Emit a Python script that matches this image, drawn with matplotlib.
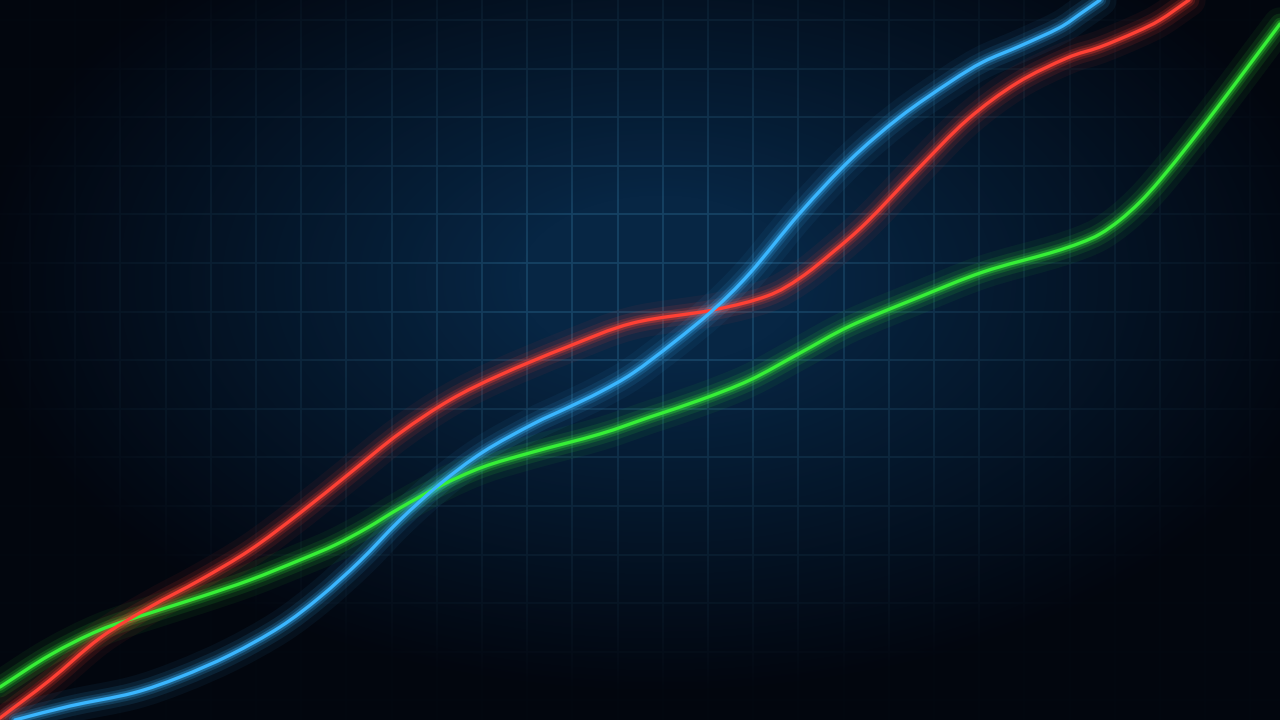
import numpy as np
import matplotlib
matplotlib.use("Agg")
import matplotlib.pyplot as plt
from matplotlib.path import Path
from matplotlib.patches import PathPatch

#------------------------------ Data ------------------------------
# x / y in screen-like units (0..1280 wide, 0..720 tall, y grows downward)
blue_x = [15, 70, 133, 180, 230, 280, 320, 360, 400, 440, 483, 533, 567, 600,
          633, 673, 713, 750, 800, 850, 900, 950, 983, 1020, 1059, 1080, 1100]
blue_y = [720, 706, 693, 677, 655, 627, 597, 561, 520, 484, 452, 424, 408, 392,
          373, 343, 310, 273, 213, 160, 117, 82, 62, 46, 28, 14, 0]

red_x = [0, 50, 100, 150, 200, 250, 300, 350, 400, 450, 500, 567, 633, 713, 767,
         800, 833, 867, 917, 967, 1017, 1067, 1100, 1136, 1160, 1189]
red_y = [718, 680, 638, 607, 580, 550, 513, 473, 433, 400, 375, 347, 323, 310, 296,
         278, 252, 222, 170, 120, 83, 58, 47, 32, 20, 0]

green_x = [0, 50, 100, 150, 200, 250, 300, 335, 367, 400, 440, 483, 533, 600, 650,
           700, 750, 800, 850, 917, 983, 1050, 1080, 1100, 1120, 1140, 1160,
           1190, 1220, 1250, 1280]
green_y = [687, 655, 630, 613, 597, 580, 560, 545, 528, 508, 486, 467, 452, 434, 417,
           400, 380, 353, 326, 298, 272, 253, 243, 234, 220, 202, 180,
           143, 104, 64, 24]

grid_x = np.arange(30, 1280, 45.2)
grid_y = np.arange(20, 720, 48.6)

#------------------------------ Styles ------------------------------
bg_center = (7/255, 38/255, 68/255)
grid_color = (22/255, 66/255, 100/255)
edge_color = (2/255, 5/255, 13/255)
series = [
    (green_x, green_y, "#36f036"),
    (red_x, red_y, "#ff4034"),
    (blue_x, blue_y, "#3ab6ff"),
]

#------------------------------ Helpers ------------------------------
# smooth path through the read points (catmull-rom as cubic beziers)
def smoothPath(x, y):
    p = np.column_stack([x, y]).astype(float)
    p = np.vstack([2 * p[0] - p[1], p, 2 * p[-1] - p[-2]])
    verts = [p[1]]
    codes = [Path.MOVETO]
    for i in range(1, len(p) - 2):
        c1 = p[i] + (p[i + 1] - p[i - 1]) / 6.
        c2 = p[i + 1] - (p[i + 2] - p[i]) / 6.
        verts += [c1, c2, p[i + 1]]
        codes += [Path.CURVE4] * 3
    return Path(verts, codes)

def drawLine(ax, path, color, lw, alpha, z):
    ax.add_patch(PathPatch(path, facecolor="none", edgecolor=color, lw=lw,
                           alpha=alpha, capstyle="round", joinstyle="round",
                           zorder=z))

#------------------------------ Figure ------------------------------
fig = plt.figure(figsize=(12.8, 7.2), dpi=100)
fig.patch.set_facecolor(edge_color)
ax = fig.add_axes((0., 0., 1., 1.))
ax.set_facecolor(bg_center)
for s in ax.spines.values():
    s.set_visible(False)
ax.set_xticks([])
ax.set_yticks([])

# grid
ax.vlines(grid_x, 0, 720, color=grid_color, lw=1.3, zorder=1)
ax.hlines(grid_y, 0, 1280, color=grid_color, lw=1.3, zorder=1)

# vignette over background + grid
yy, xx = np.mgrid[0:720, 0:1280]
r = np.sqrt(((xx - 660) / 700.) ** 2 + ((yy - 280) / 420.) ** 2)
alpha = np.clip((r - 0.2) / 0.8, 0, 1) ** 0.95
vig = np.zeros((720, 1280, 4))
vig[..., 0] = edge_color[0]
vig[..., 1] = edge_color[1]
vig[..., 2] = edge_color[2]
vig[..., 3] = np.clip(alpha, 0, 0.97)
ax.imshow(vig, extent=(0, 1280, 720, 0), zorder=2, interpolation="bilinear")
ax.set_xlim(0, 1280)
ax.set_ylim(720, 0)
ax.set_aspect("auto")

# glowing lines
for x, y, c in series:
    path = smoothPath(x, y)
    for lw, a in [(24, 0.06), (15, 0.11), (9, 0.18), (5.5, 0.32)]:
        drawLine(ax, path, c, lw, a, 3)
    drawLine(ax, path, c, 2.4, 1.0, 4)

fig.savefig("out.png", dpi=100, facecolor=fig.get_facecolor())
